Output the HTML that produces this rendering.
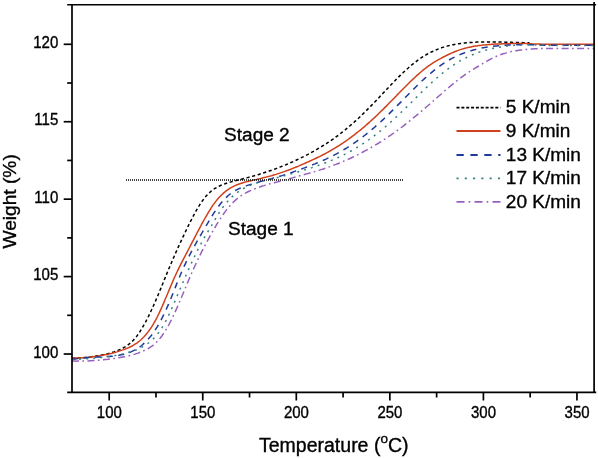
<!DOCTYPE html>
<html><head><meta charset="utf-8"><title>TG curves</title>
<style>html,body{margin:0;padding:0;background:#fff}svg{display:block}</style></head>
<body>
<svg width="598" height="458" viewBox="0 0 598 458">
<rect width="598" height="458" fill="#fff"/>
<path d="M72.0,358.3 L73.5,358.2 L75.0,358.1 L76.5,358.1 L78.0,358.0 L79.5,357.9 L81.0,357.7 L82.5,357.6 L84.0,357.5 L85.5,357.4 L87.0,357.2 L88.5,357.0 L90.0,356.9 L91.5,356.7 L93.0,356.5 L94.5,356.3 L96.0,356.1 L97.5,355.8 L99.0,355.6 L100.5,355.3 L102.0,355.0 L103.5,354.7 L105.0,354.4 L106.5,354.0 L108.0,353.6 L109.5,353.2 L111.0,352.8 L112.5,352.3 L114.0,351.9 L115.5,351.3 L117.0,350.8 L118.5,350.1 L120.0,349.5 L121.5,348.8 L123.0,348.0 L124.5,347.2 L126.0,346.3 L127.5,345.3 L129.0,344.2 L130.5,343.0 L132.0,341.7 L133.5,340.1 L135.0,338.5 L136.5,336.6 L138.0,334.5 L139.5,332.3 L141.0,329.9 L142.5,327.4 L144.0,324.8 L145.5,322.1 L147.0,319.2 L148.5,316.3 L150.0,313.2 L151.5,310.0 L153.0,306.7 L154.5,303.4 L156.0,299.9 L157.5,296.4 L159.0,292.8 L160.5,289.1 L162.0,285.5 L163.5,281.8 L165.0,278.1 L166.5,274.4 L168.0,270.8 L169.5,267.2 L171.0,263.7 L172.5,260.2 L174.0,256.7 L175.5,253.3 L177.0,250.0 L178.5,246.6 L180.0,243.4 L181.5,240.1 L183.0,236.9 L184.5,233.8 L186.0,230.6 L187.5,227.5 L189.0,224.4 L190.5,221.4 L192.0,218.5 L193.5,215.6 L195.0,212.8 L196.5,210.1 L198.0,207.6 L199.5,205.2 L201.0,202.9 L202.5,200.7 L204.0,198.7 L205.5,196.8 L207.0,195.1 L208.5,193.6 L210.0,192.2 L211.5,190.9 L213.0,189.8 L214.5,188.7 L216.0,187.8 L217.5,187.0 L219.0,186.2 L220.5,185.5 L222.0,184.9 L223.5,184.3 L225.0,183.8 L226.5,183.3 L228.0,182.8 L229.5,182.4 L231.0,181.9 L232.5,181.5 L234.0,181.1 L235.5,180.7 L237.0,180.3 L238.5,179.9 L240.0,179.5 L241.5,179.1 L243.0,178.7 L244.5,178.4 L246.0,178.0 L247.5,177.6 L249.0,177.2 L250.5,176.8 L252.0,176.4 L253.5,176.0 L255.0,175.5 L256.5,175.1 L258.0,174.7 L259.5,174.2 L261.0,173.7 L262.5,173.3 L264.0,172.8 L265.5,172.3 L267.0,171.8 L268.5,171.3 L270.0,170.8 L271.5,170.3 L273.0,169.7 L274.5,169.2 L276.0,168.6 L277.5,168.1 L279.0,167.5 L280.5,166.9 L282.0,166.3 L283.5,165.7 L285.0,165.1 L286.5,164.5 L288.0,163.8 L289.5,163.2 L291.0,162.5 L292.5,161.9 L294.0,161.2 L295.5,160.5 L297.0,159.8 L298.5,159.1 L300.0,158.3 L301.5,157.6 L303.0,156.9 L304.5,156.1 L306.0,155.3 L307.5,154.6 L309.0,153.8 L310.5,153.0 L312.0,152.1 L313.5,151.3 L315.0,150.5 L316.5,149.6 L318.0,148.7 L319.5,147.9 L321.0,147.0 L322.5,146.0 L324.0,145.1 L325.5,144.1 L327.0,143.2 L328.5,142.2 L330.0,141.1 L331.5,140.1 L333.0,139.1 L334.5,138.0 L336.0,136.9 L337.5,135.8 L339.0,134.7 L340.5,133.5 L342.0,132.3 L343.5,131.2 L345.0,130.0 L346.5,128.7 L348.0,127.5 L349.5,126.2 L351.0,124.9 L352.5,123.6 L354.0,122.3 L355.5,120.9 L357.0,119.5 L358.5,118.2 L360.0,116.8 L361.5,115.3 L363.0,113.9 L364.5,112.4 L366.0,110.9 L367.5,109.4 L369.0,107.9 L370.5,106.4 L372.0,104.9 L373.5,103.3 L375.0,101.8 L376.5,100.2 L378.0,98.6 L379.5,97.0 L381.0,95.4 L382.5,93.8 L384.0,92.2 L385.5,90.6 L387.0,89.0 L388.5,87.5 L390.0,85.9 L391.5,84.3 L393.0,82.7 L394.5,81.2 L396.0,79.6 L397.5,78.1 L399.0,76.6 L400.5,75.1 L402.0,73.7 L403.5,72.3 L405.0,70.9 L406.5,69.5 L408.0,68.2 L409.5,66.8 L411.0,65.6 L412.5,64.3 L414.0,63.1 L415.5,62.0 L417.0,60.8 L418.5,59.7 L420.0,58.7 L421.5,57.7 L423.0,56.7 L424.5,55.8 L426.0,54.9 L427.5,54.0 L429.0,53.2 L430.5,52.4 L432.0,51.7 L433.5,51.0 L435.0,50.3 L436.5,49.7 L438.0,49.1 L439.5,48.5 L441.0,48.0 L442.5,47.4 L444.0,47.0 L445.5,46.5 L447.0,46.1 L448.5,45.7 L450.0,45.4 L451.5,45.0 L453.0,44.7 L454.5,44.4 L456.0,44.1 L457.5,43.9 L459.0,43.7 L460.5,43.5 L462.0,43.3 L463.5,43.1 L465.0,42.9 L466.5,42.8 L468.0,42.7 L469.5,42.5 L471.0,42.4 L472.5,42.4 L474.0,42.3 L475.5,42.2 L477.0,42.1 L478.5,42.1 L480.0,42.0 L481.5,42.0 L483.0,42.0 L484.5,42.0 L486.0,41.9 L487.5,41.9 L489.0,41.9 L490.5,41.9 L492.0,41.9 L493.5,42.0 L495.0,42.0 L496.5,42.0 L498.0,42.0 L499.5,42.0 L501.0,42.1 L502.5,42.1 L504.0,42.1 L505.5,42.2 L507.0,42.2 L508.5,42.2 L510.0,42.3 L511.5,42.3 L513.0,42.4 L514.5,42.4 L516.0,42.4 L517.5,42.5 L519.0,42.5 L520.5,42.6 L522.0,42.6 L523.5,42.7 L525.0,42.7 L526.5,42.7 L528.0,42.7 L529.5,42.8" fill="none" stroke="#000000" stroke-width="1.5" stroke-dasharray="3.2 2.6"/>
<path d="M72.0,358.1 L73.5,358.1 L75.0,358.1 L76.5,358.1 L78.0,358.0 L79.5,358.0 L81.0,357.9 L82.5,357.8 L84.0,357.7 L85.5,357.6 L87.0,357.4 L88.5,357.3 L90.0,357.1 L91.5,357.0 L93.0,356.8 L94.5,356.6 L96.0,356.4 L97.5,356.1 L99.0,355.9 L100.5,355.6 L102.0,355.4 L103.5,355.1 L105.0,354.8 L106.5,354.5 L108.0,354.2 L109.5,353.8 L111.0,353.5 L112.5,353.1 L114.0,352.7 L115.5,352.3 L117.0,351.9 L118.5,351.4 L120.0,350.9 L121.5,350.4 L123.0,349.9 L124.5,349.4 L126.0,348.8 L127.5,348.1 L129.0,347.5 L130.5,346.8 L132.0,346.0 L133.5,345.2 L135.0,344.2 L136.5,343.3 L138.0,342.2 L139.5,341.0 L141.0,339.7 L142.5,338.3 L144.0,336.8 L145.5,335.1 L147.0,333.3 L148.5,331.4 L150.0,329.3 L151.5,327.1 L153.0,324.7 L154.5,322.1 L156.0,319.4 L157.5,316.5 L159.0,313.4 L160.5,310.1 L162.0,306.8 L163.5,303.4 L165.0,299.8 L166.5,296.3 L168.0,292.7 L169.5,289.1 L171.0,285.5 L172.5,282.0 L174.0,278.5 L175.5,275.2 L177.0,272.0 L178.5,268.9 L180.0,265.8 L181.5,262.9 L183.0,259.9 L184.5,257.1 L186.0,254.2 L187.5,251.4 L189.0,248.5 L190.5,245.6 L192.0,242.7 L193.5,239.8 L195.0,236.9 L196.5,234.0 L198.0,231.1 L199.5,228.3 L201.0,225.5 L202.5,222.7 L204.0,220.0 L205.5,217.4 L207.0,214.8 L208.5,212.2 L210.0,209.8 L211.5,207.4 L213.0,205.2 L214.5,203.1 L216.0,201.1 L217.5,199.3 L219.0,197.6 L220.5,196.0 L222.0,194.5 L223.5,193.1 L225.0,191.9 L226.5,190.7 L228.0,189.6 L229.5,188.6 L231.0,187.7 L232.5,186.9 L234.0,186.1 L235.5,185.4 L237.0,184.8 L238.5,184.2 L240.0,183.7 L241.5,183.2 L243.0,182.7 L244.5,182.3 L246.0,181.9 L247.5,181.5 L249.0,181.2 L250.5,180.8 L252.0,180.5 L253.5,180.1 L255.0,179.8 L256.5,179.5 L258.0,179.1 L259.5,178.8 L261.0,178.4 L262.5,178.0 L264.0,177.6 L265.5,177.3 L267.0,176.9 L268.5,176.5 L270.0,176.1 L271.5,175.7 L273.0,175.2 L274.5,174.8 L276.0,174.4 L277.5,173.9 L279.0,173.4 L280.5,172.9 L282.0,172.4 L283.5,171.9 L285.0,171.4 L286.5,170.8 L288.0,170.3 L289.5,169.7 L291.0,169.1 L292.5,168.5 L294.0,167.9 L295.5,167.3 L297.0,166.7 L298.5,166.1 L300.0,165.4 L301.5,164.8 L303.0,164.1 L304.5,163.5 L306.0,162.8 L307.5,162.1 L309.0,161.5 L310.5,160.8 L312.0,160.1 L313.5,159.4 L315.0,158.7 L316.5,158.0 L318.0,157.3 L319.5,156.6 L321.0,155.8 L322.5,155.0 L324.0,154.3 L325.5,153.5 L327.0,152.7 L328.5,151.8 L330.0,151.0 L331.5,150.1 L333.0,149.2 L334.5,148.3 L336.0,147.4 L337.5,146.5 L339.0,145.6 L340.5,144.6 L342.0,143.6 L343.5,142.6 L345.0,141.6 L346.5,140.6 L348.0,139.5 L349.5,138.4 L351.0,137.3 L352.5,136.2 L354.0,135.1 L355.5,133.9 L357.0,132.7 L358.5,131.5 L360.0,130.3 L361.5,129.1 L363.0,127.8 L364.5,126.6 L366.0,125.3 L367.5,123.9 L369.0,122.6 L370.5,121.3 L372.0,119.9 L373.5,118.5 L375.0,117.1 L376.5,115.7 L378.0,114.3 L379.5,112.8 L381.0,111.3 L382.5,109.9 L384.0,108.4 L385.5,106.9 L387.0,105.4 L388.5,103.8 L390.0,102.3 L391.5,100.8 L393.0,99.2 L394.5,97.7 L396.0,96.2 L397.5,94.6 L399.0,93.1 L400.5,91.5 L402.0,90.0 L403.5,88.5 L405.0,87.0 L406.5,85.5 L408.0,84.0 L409.5,82.5 L411.0,81.0 L412.5,79.6 L414.0,78.2 L415.5,76.8 L417.0,75.4 L418.5,74.1 L420.0,72.7 L421.5,71.5 L423.0,70.2 L424.5,69.0 L426.0,67.8 L427.5,66.7 L429.0,65.6 L430.5,64.6 L432.0,63.6 L433.5,62.6 L435.0,61.7 L436.5,60.8 L438.0,59.9 L439.5,59.1 L441.0,58.3 L442.5,57.5 L444.0,56.7 L445.5,56.0 L447.0,55.2 L448.5,54.5 L450.0,53.8 L451.5,53.1 L453.0,52.5 L454.5,51.8 L456.0,51.2 L457.5,50.6 L459.0,50.1 L460.5,49.6 L462.0,49.1 L463.5,48.7 L465.0,48.3 L466.5,47.9 L468.0,47.5 L469.5,47.2 L471.0,46.9 L472.5,46.6 L474.0,46.3 L475.5,46.1 L477.0,45.9 L478.5,45.6 L480.0,45.4 L481.5,45.3 L483.0,45.1 L484.5,44.9 L486.0,44.8 L487.5,44.7 L489.0,44.5 L490.5,44.4 L492.0,44.3 L493.5,44.2 L495.0,44.1 L496.5,44.1 L498.0,44.0 L499.5,43.9 L501.0,43.9 L502.5,43.8 L504.0,43.8 L505.5,43.7 L507.0,43.7 L508.5,43.7 L510.0,43.6 L511.5,43.6 L513.0,43.6 L514.5,43.6 L516.0,43.6 L517.5,43.6 L519.0,43.6 L520.5,43.5 L522.0,43.5 L523.5,43.5 L525.0,43.6 L526.5,43.6 L528.0,43.7 L529.5,43.7 L531.0,43.8 L532.5,43.9 L534.0,43.9 L535.5,44.0 L537.0,44.0 L538.5,44.1 L540.0,44.1 L541.5,44.2 L543.0,44.2 L544.5,44.3 L546.0,44.3 L547.5,44.3 L549.0,44.3 L550.5,44.3 L552.0,44.3 L553.5,44.3 L555.0,44.3 L556.5,44.3 L558.0,44.3 L559.5,44.3 L561.0,44.3 L562.5,44.3 L564.0,44.3 L565.5,44.3 L567.0,44.3 L568.5,44.3 L570.0,44.3 L571.5,44.3 L573.0,44.3 L574.5,44.3 L576.0,44.3 L577.5,44.3 L579.0,44.3 L580.5,44.3 L582.0,44.3 L583.5,44.3 L585.0,44.3 L586.5,44.3 L588.0,44.3 L589.5,44.3 L591.0,44.3 L592.5,44.3 L594.0,44.3" fill="none" stroke="#d0401a" stroke-width="1.5"/>
<path d="M72.0,359.5 L73.5,359.3 L75.0,359.0 L76.5,358.8 L78.0,358.6 L79.5,358.4 L81.0,358.2 L82.5,358.0 L84.0,357.9 L85.5,357.8 L87.0,357.7 L88.5,357.5 L90.0,357.5 L91.5,357.4 L93.0,357.3 L94.5,357.2 L96.0,357.1 L97.5,357.1 L99.0,357.0 L100.5,356.9 L102.0,356.9 L103.5,356.8 L105.0,356.7 L106.5,356.6 L108.0,356.5 L109.5,356.4 L111.0,356.3 L112.5,356.2 L114.0,356.0 L115.5,355.8 L117.0,355.6 L118.5,355.4 L120.0,355.1 L121.5,354.8 L123.0,354.5 L124.5,354.1 L126.0,353.7 L127.5,353.2 L129.0,352.7 L130.5,352.1 L132.0,351.4 L133.5,350.7 L135.0,349.9 L136.5,349.1 L138.0,348.1 L139.5,347.1 L141.0,346.0 L142.5,344.8 L144.0,343.4 L145.5,342.0 L147.0,340.5 L148.5,338.8 L150.0,337.1 L151.5,335.2 L153.0,333.1 L154.5,331.0 L156.0,328.7 L157.5,326.3 L159.0,323.7 L160.5,321.0 L162.0,318.2 L163.5,315.2 L165.0,312.1 L166.5,308.8 L168.0,305.4 L169.5,301.9 L171.0,298.2 L172.5,294.5 L174.0,290.7 L175.5,286.9 L177.0,283.1 L178.5,279.4 L180.0,275.7 L181.5,272.2 L183.0,268.8 L184.5,265.6 L186.0,262.4 L187.5,259.3 L189.0,256.3 L190.5,253.4 L192.0,250.6 L193.5,247.8 L195.0,245.1 L196.5,242.4 L198.0,239.8 L199.5,237.1 L201.0,234.6 L202.5,232.0 L204.0,229.4 L205.5,226.8 L207.0,224.3 L208.5,221.8 L210.0,219.3 L211.5,216.8 L213.0,214.4 L214.5,212.1 L216.0,209.9 L217.5,207.7 L219.0,205.7 L220.5,203.7 L222.0,201.9 L223.5,200.1 L225.0,198.5 L226.5,197.1 L228.0,195.7 L229.5,194.5 L231.0,193.3 L232.5,192.3 L234.0,191.3 L235.5,190.5 L237.0,189.7 L238.5,188.9 L240.0,188.3 L241.5,187.6 L243.0,187.0 L244.5,186.5 L246.0,185.9 L247.5,185.4 L249.0,184.9 L250.5,184.5 L252.0,184.0 L253.5,183.6 L255.0,183.1 L256.5,182.7 L258.0,182.3 L259.5,181.8 L261.0,181.4 L262.5,181.0 L264.0,180.6 L265.5,180.2 L267.0,179.8 L268.5,179.4 L270.0,179.0 L271.5,178.6 L273.0,178.1 L274.5,177.7 L276.0,177.3 L277.5,176.9 L279.0,176.5 L280.5,176.0 L282.0,175.6 L283.5,175.1 L285.0,174.6 L286.5,174.2 L288.0,173.7 L289.5,173.2 L291.0,172.7 L292.5,172.2 L294.0,171.6 L295.5,171.1 L297.0,170.6 L298.5,170.0 L300.0,169.5 L301.5,169.0 L303.0,168.4 L304.5,167.9 L306.0,167.3 L307.5,166.7 L309.0,166.2 L310.5,165.6 L312.0,165.0 L313.5,164.4 L315.0,163.9 L316.5,163.3 L318.0,162.6 L319.5,162.0 L321.0,161.4 L322.5,160.7 L324.0,160.0 L325.5,159.4 L327.0,158.7 L328.5,157.9 L330.0,157.2 L331.5,156.5 L333.0,155.7 L334.5,154.9 L336.0,154.1 L337.5,153.3 L339.0,152.5 L340.5,151.6 L342.0,150.8 L343.5,149.9 L345.0,149.0 L346.5,148.1 L348.0,147.1 L349.5,146.2 L351.0,145.2 L352.5,144.2 L354.0,143.2 L355.5,142.2 L357.0,141.1 L358.5,140.0 L360.0,138.9 L361.5,137.8 L363.0,136.7 L364.5,135.5 L366.0,134.3 L367.5,133.1 L369.0,131.9 L370.5,130.7 L372.0,129.4 L373.5,128.2 L375.0,126.9 L376.5,125.5 L378.0,124.2 L379.5,122.9 L381.0,121.5 L382.5,120.1 L384.0,118.7 L385.5,117.3 L387.0,115.8 L388.5,114.4 L390.0,112.9 L391.5,111.4 L393.0,109.9 L394.5,108.5 L396.0,106.9 L397.5,105.4 L399.0,103.9 L400.5,102.4 L402.0,100.9 L403.5,99.3 L405.0,97.8 L406.5,96.3 L408.0,94.7 L409.5,93.2 L411.0,91.7 L412.5,90.2 L414.0,88.7 L415.5,87.2 L417.0,85.7 L418.5,84.3 L420.0,82.8 L421.5,81.4 L423.0,80.0 L424.5,78.6 L426.0,77.3 L427.5,75.9 L429.0,74.6 L430.5,73.4 L432.0,72.1 L433.5,70.9 L435.0,69.7 L436.5,68.5 L438.0,67.4 L439.5,66.3 L441.0,65.2 L442.5,64.2 L444.0,63.2 L445.5,62.2 L447.0,61.3 L448.5,60.4 L450.0,59.5 L451.5,58.7 L453.0,57.9 L454.5,57.1 L456.0,56.4 L457.5,55.7 L459.0,55.0 L460.5,54.4 L462.0,53.8 L463.5,53.2 L465.0,52.6 L466.5,52.1 L468.0,51.6 L469.5,51.1 L471.0,50.7 L472.5,50.2 L474.0,49.8 L475.5,49.5 L477.0,49.1 L478.5,48.8 L480.0,48.4 L481.5,48.1 L483.0,47.8 L484.5,47.6 L486.0,47.3 L487.5,47.1 L489.0,46.9 L490.5,46.7 L492.0,46.5 L493.5,46.3 L495.0,46.1 L496.5,46.0 L498.0,45.8 L499.5,45.7 L501.0,45.6 L502.5,45.5 L504.0,45.3 L505.5,45.3 L507.0,45.2 L508.5,45.1 L510.0,45.0 L511.5,44.9 L513.0,44.9 L514.5,44.8 L516.0,44.8 L517.5,44.7 L519.0,44.7 L520.5,44.7 L522.0,44.6 L523.5,44.6 L525.0,44.6 L526.5,44.6 L528.0,44.7 L529.5,44.7 L531.0,44.8 L532.5,44.8 L534.0,44.9 L535.5,44.9 L537.0,45.0 L538.5,45.1 L540.0,45.1 L541.5,45.2 L543.0,45.2 L544.5,45.3 L546.0,45.3 L547.5,45.3 L549.0,45.3 L550.5,45.3 L552.0,45.3 L553.5,45.3 L555.0,45.3 L556.5,45.3 L558.0,45.3 L559.5,45.3 L561.0,45.3 L562.5,45.3 L564.0,45.3 L565.5,45.3 L567.0,45.3 L568.5,45.3 L570.0,45.3 L571.5,45.3 L573.0,45.3 L574.5,45.3 L576.0,45.3 L577.5,45.3 L579.0,45.3 L580.5,45.3 L582.0,45.3 L583.5,45.3 L585.0,45.3 L586.5,45.3 L588.0,45.3 L589.5,45.3 L591.0,45.3 L592.5,45.3 L594.0,45.3" fill="none" stroke="#1f3a9a" stroke-width="1.5" stroke-dasharray="6.2 5.4"/>
<path d="M72.0,359.4 L73.5,359.4 L75.0,359.4 L76.5,359.3 L78.0,359.3 L79.5,359.2 L81.0,359.1 L82.5,359.0 L84.0,358.9 L85.5,358.9 L87.0,358.8 L88.5,358.6 L90.0,358.5 L91.5,358.4 L93.0,358.3 L94.5,358.2 L96.0,358.0 L97.5,357.9 L99.0,357.7 L100.5,357.6 L102.0,357.4 L103.5,357.2 L105.0,357.0 L106.5,356.8 L108.0,356.6 L109.5,356.4 L111.0,356.2 L112.5,356.0 L114.0,355.7 L115.5,355.5 L117.0,355.2 L118.5,354.9 L120.0,354.6 L121.5,354.3 L123.0,353.9 L124.5,353.6 L126.0,353.2 L127.5,352.8 L129.0,352.3 L130.5,351.9 L132.0,351.4 L133.5,350.8 L135.0,350.3 L136.5,349.7 L138.0,349.0 L139.5,348.3 L141.0,347.6 L142.5,346.8 L144.0,345.9 L145.5,345.0 L147.0,344.0 L148.5,343.0 L150.0,341.8 L151.5,340.5 L153.0,339.1 L154.5,337.6 L156.0,335.9 L157.5,334.1 L159.0,332.2 L160.5,330.0 L162.0,327.7 L163.5,325.2 L165.0,322.5 L166.5,319.7 L168.0,316.6 L169.5,313.5 L171.0,310.2 L172.5,306.8 L174.0,303.3 L175.5,299.9 L177.0,296.3 L178.5,292.8 L180.0,289.3 L181.5,285.8 L183.0,282.3 L184.5,278.8 L186.0,275.4 L187.5,271.9 L189.0,268.5 L190.5,265.2 L192.0,261.9 L193.5,258.7 L195.0,255.5 L196.5,252.5 L198.0,249.5 L199.5,246.6 L201.0,243.8 L202.5,241.0 L204.0,238.3 L205.5,235.7 L207.0,233.2 L208.5,230.6 L210.0,228.1 L211.5,225.6 L213.0,223.0 L214.5,220.4 L216.0,217.9 L217.5,215.4 L219.0,213.0 L220.5,210.7 L222.0,208.5 L223.5,206.5 L225.0,204.5 L226.5,202.7 L228.0,201.0 L229.5,199.3 L231.0,197.8 L232.5,196.4 L234.0,195.1 L235.5,193.8 L237.0,192.7 L238.5,191.6 L240.0,190.6 L241.5,189.7 L243.0,188.8 L244.5,188.0 L246.0,187.2 L247.5,186.5 L249.0,185.8 L250.5,185.2 L252.0,184.6 L253.5,184.0 L255.0,183.5 L256.5,183.0 L258.0,182.5 L259.5,182.1 L261.0,181.6 L262.5,181.2 L264.0,180.8 L265.5,180.4 L267.0,180.0 L268.5,179.6 L270.0,179.3 L271.5,178.9 L273.0,178.6 L274.5,178.2 L276.0,177.9 L277.5,177.5 L279.0,177.1 L280.5,176.7 L282.0,176.4 L283.5,176.0 L285.0,175.6 L286.5,175.2 L288.0,174.8 L289.5,174.4 L291.0,173.9 L292.5,173.5 L294.0,173.1 L295.5,172.6 L297.0,172.2 L298.5,171.7 L300.0,171.3 L301.5,170.8 L303.0,170.4 L304.5,169.9 L306.0,169.5 L307.5,169.0 L309.0,168.5 L310.5,168.0 L312.0,167.6 L313.5,167.1 L315.0,166.6 L316.5,166.1 L318.0,165.6 L319.5,165.0 L321.0,164.5 L322.5,164.0 L324.0,163.4 L325.5,162.8 L327.0,162.2 L328.5,161.7 L330.0,161.0 L331.5,160.4 L333.0,159.8 L334.5,159.1 L336.0,158.5 L337.5,157.8 L339.0,157.1 L340.5,156.4 L342.0,155.7 L343.5,154.9 L345.0,154.2 L346.5,153.4 L348.0,152.6 L349.5,151.8 L351.0,151.0 L352.5,150.2 L354.0,149.3 L355.5,148.4 L357.0,147.5 L358.5,146.6 L360.0,145.7 L361.5,144.7 L363.0,143.7 L364.5,142.7 L366.0,141.7 L367.5,140.7 L369.0,139.6 L370.5,138.6 L372.0,137.5 L373.5,136.3 L375.0,135.2 L376.5,134.1 L378.0,132.9 L379.5,131.7 L381.0,130.5 L382.5,129.2 L384.0,128.0 L385.5,126.7 L387.0,125.4 L388.5,124.1 L390.0,122.7 L391.5,121.4 L393.0,120.0 L394.5,118.6 L396.0,117.2 L397.5,115.8 L399.0,114.4 L400.5,113.0 L402.0,111.5 L403.5,110.1 L405.0,108.6 L406.5,107.1 L408.0,105.6 L409.5,104.1 L411.0,102.7 L412.5,101.2 L414.0,99.7 L415.5,98.2 L417.0,96.7 L418.5,95.2 L420.0,93.7 L421.5,92.2 L423.0,90.8 L424.5,89.3 L426.0,87.9 L427.5,86.5 L429.0,85.0 L430.5,83.6 L432.0,82.3 L433.5,80.9 L435.0,79.6 L436.5,78.2 L438.0,76.9 L439.5,75.7 L441.0,74.4 L442.5,73.2 L444.0,72.0 L445.5,70.8 L447.0,69.7 L448.5,68.6 L450.0,67.5 L451.5,66.4 L453.0,65.4 L454.5,64.4 L456.0,63.4 L457.5,62.5 L459.0,61.6 L460.5,60.7 L462.0,59.9 L463.5,59.1 L465.0,58.3 L466.5,57.5 L468.0,56.8 L469.5,56.1 L471.0,55.4 L472.5,54.8 L474.0,54.2 L475.5,53.6 L477.0,53.0 L478.5,52.5 L480.0,51.9 L481.5,51.5 L483.0,51.0 L484.5,50.5 L486.0,50.1 L487.5,49.7 L489.0,49.3 L490.5,49.0 L492.0,48.6 L493.5,48.3 L495.0,48.0 L496.5,47.7 L498.0,47.4 L499.5,47.2 L501.0,46.9 L502.5,46.7 L504.0,46.5 L505.5,46.3 L507.0,46.1 L508.5,45.9 L510.0,45.7 L511.5,45.6 L513.0,45.5 L514.5,45.3 L516.0,45.2 L517.5,45.1 L519.0,45.0 L520.5,44.9 L522.0,44.8 L523.5,44.7 L525.0,44.7 L526.5,44.7 L528.0,44.7 L529.5,44.7 L531.0,44.7 L532.5,44.8 L534.0,44.8 L535.5,44.9 L537.0,45.0 L538.5,45.0 L540.0,45.1 L541.5,45.2 L543.0,45.3 L544.5,45.4 L546.0,45.4 L547.5,45.4 L549.0,45.4 L550.5,45.4 L552.0,45.4 L553.5,45.4 L555.0,45.4 L556.5,45.4 L558.0,45.4 L559.5,45.4 L561.0,45.4 L562.5,45.4 L564.0,45.4 L565.5,45.4 L567.0,45.4 L568.5,45.4 L570.0,45.4 L571.5,45.4 L573.0,45.4 L574.5,45.4 L576.0,45.4 L577.5,45.4 L579.0,45.4 L580.5,45.4 L582.0,45.4 L583.5,45.4 L585.0,45.4 L586.5,45.4 L588.0,45.4 L589.5,45.4 L591.0,45.4 L592.5,45.4 L594.0,45.4" fill="none" stroke="#358282" stroke-width="1.5" stroke-dasharray="2.0 5.1"/>
<path d="M72.0,361.1 L73.5,361.1 L75.0,361.1 L76.5,361.2 L78.0,361.1 L79.5,361.1 L81.0,361.1 L82.5,361.1 L84.0,361.0 L85.5,361.0 L87.0,360.9 L88.5,360.9 L90.0,360.8 L91.5,360.7 L93.0,360.6 L94.5,360.5 L96.0,360.4 L97.5,360.3 L99.0,360.2 L100.5,360.0 L102.0,359.9 L103.5,359.8 L105.0,359.6 L106.5,359.4 L108.0,359.3 L109.5,359.1 L111.0,358.9 L112.5,358.7 L114.0,358.5 L115.5,358.3 L117.0,358.1 L118.5,357.8 L120.0,357.6 L121.5,357.3 L123.0,357.0 L124.5,356.7 L126.0,356.4 L127.5,356.1 L129.0,355.7 L130.5,355.4 L132.0,355.0 L133.5,354.5 L135.0,354.1 L136.5,353.6 L138.0,353.1 L139.5,352.5 L141.0,351.9 L142.5,351.3 L144.0,350.6 L145.5,349.9 L147.0,349.2 L148.5,348.3 L150.0,347.4 L151.5,346.4 L153.0,345.3 L154.5,344.1 L156.0,342.7 L157.5,341.2 L159.0,339.6 L160.5,337.8 L162.0,335.8 L163.5,333.7 L165.0,331.4 L166.5,328.9 L168.0,326.3 L169.5,323.5 L171.0,320.6 L172.5,317.6 L174.0,314.4 L175.5,311.1 L177.0,307.8 L178.5,304.3 L180.0,300.8 L181.5,297.3 L183.0,293.7 L184.5,290.1 L186.0,286.5 L187.5,282.9 L189.0,279.3 L190.5,275.8 L192.0,272.3 L193.5,269.0 L195.0,265.7 L196.5,262.4 L198.0,259.3 L199.5,256.2 L201.0,253.1 L202.5,250.1 L204.0,247.2 L205.5,244.4 L207.0,241.6 L208.5,238.8 L210.0,236.1 L211.5,233.5 L213.0,230.8 L214.5,228.3 L216.0,225.7 L217.5,223.2 L219.0,220.8 L220.5,218.5 L222.0,216.2 L223.5,214.0 L225.0,211.9 L226.5,209.9 L228.0,208.0 L229.5,206.2 L231.0,204.5 L232.5,202.9 L234.0,201.5 L235.5,200.1 L237.0,198.8 L238.5,197.6 L240.0,196.5 L241.5,195.5 L243.0,194.5 L244.5,193.6 L246.0,192.8 L247.5,192.0 L249.0,191.3 L250.5,190.6 L252.0,189.9 L253.5,189.3 L255.0,188.7 L256.5,188.1 L258.0,187.6 L259.5,187.0 L261.0,186.5 L262.5,186.0 L264.0,185.6 L265.5,185.1 L267.0,184.7 L268.5,184.2 L270.0,183.8 L271.5,183.4 L273.0,183.1 L274.5,182.7 L276.0,182.3 L277.5,181.9 L279.0,181.5 L280.5,181.1 L282.0,180.7 L283.5,180.3 L285.0,179.9 L286.5,179.5 L288.0,179.1 L289.5,178.7 L291.0,178.3 L292.5,177.9 L294.0,177.4 L295.5,177.0 L297.0,176.6 L298.5,176.2 L300.0,175.7 L301.5,175.3 L303.0,174.9 L304.5,174.5 L306.0,174.0 L307.5,173.6 L309.0,173.2 L310.5,172.8 L312.0,172.3 L313.5,171.9 L315.0,171.5 L316.5,171.0 L318.0,170.6 L319.5,170.1 L321.0,169.6 L322.5,169.2 L324.0,168.7 L325.5,168.2 L327.0,167.7 L328.5,167.1 L330.0,166.6 L331.5,166.1 L333.0,165.5 L334.5,164.9 L336.0,164.4 L337.5,163.8 L339.0,163.2 L340.5,162.6 L342.0,162.0 L343.5,161.3 L345.0,160.7 L346.5,160.0 L348.0,159.4 L349.5,158.7 L351.0,158.0 L352.5,157.3 L354.0,156.6 L355.5,155.9 L357.0,155.1 L358.5,154.4 L360.0,153.6 L361.5,152.8 L363.0,152.0 L364.5,151.2 L366.0,150.4 L367.5,149.6 L369.0,148.8 L370.5,147.9 L372.0,147.0 L373.5,146.2 L375.0,145.3 L376.5,144.4 L378.0,143.5 L379.5,142.5 L381.0,141.6 L382.5,140.6 L384.0,139.7 L385.5,138.7 L387.0,137.7 L388.5,136.7 L390.0,135.6 L391.5,134.6 L393.0,133.5 L394.5,132.5 L396.0,131.4 L397.5,130.3 L399.0,129.2 L400.5,128.1 L402.0,127.0 L403.5,125.8 L405.0,124.6 L406.5,123.5 L408.0,122.3 L409.5,121.1 L411.0,119.9 L412.5,118.7 L414.0,117.4 L415.5,116.2 L417.0,114.9 L418.5,113.7 L420.0,112.4 L421.5,111.1 L423.0,109.9 L424.5,108.6 L426.0,107.3 L427.5,106.0 L429.0,104.7 L430.5,103.4 L432.0,102.0 L433.5,100.7 L435.0,99.4 L436.5,98.1 L438.0,96.8 L439.5,95.5 L441.0,94.2 L442.5,92.8 L444.0,91.5 L445.5,90.2 L447.0,89.0 L448.5,87.7 L450.0,86.4 L451.5,85.2 L453.0,83.9 L454.5,82.7 L456.0,81.5 L457.5,80.3 L459.0,79.2 L460.5,78.0 L462.0,76.9 L463.5,75.8 L465.0,74.7 L466.5,73.7 L468.0,72.7 L469.5,71.7 L471.0,70.7 L472.5,69.8 L474.0,68.8 L475.5,67.9 L477.0,67.0 L478.5,66.1 L480.0,65.2 L481.5,64.3 L483.0,63.4 L484.5,62.6 L486.0,61.7 L487.5,60.8 L489.0,60.0 L490.5,59.2 L492.0,58.4 L493.5,57.7 L495.0,57.0 L496.5,56.3 L498.0,55.7 L499.5,55.1 L501.0,54.5 L502.5,54.0 L504.0,53.5 L505.5,53.1 L507.0,52.6 L508.5,52.3 L510.0,51.9 L511.5,51.6 L513.0,51.3 L514.5,51.0 L516.0,50.7 L517.5,50.5 L519.0,50.3 L520.5,50.1 L522.0,49.9 L523.5,49.8 L525.0,49.6 L526.5,49.4 L528.0,49.2 L529.5,49.1 L531.0,49.0 L532.5,48.9 L534.0,48.8 L535.5,48.8 L537.0,48.7 L538.5,48.7 L540.0,48.6 L541.5,48.6 L543.0,48.6 L544.5,48.6 L546.0,48.6 L547.5,48.6 L549.0,48.6 L550.5,48.6 L552.0,48.6 L553.5,48.6 L555.0,48.6 L556.5,48.6 L558.0,48.6 L559.5,48.6 L561.0,48.6 L562.5,48.6 L564.0,48.6 L565.5,48.6 L567.0,48.6 L568.5,48.6 L570.0,48.6 L571.5,48.6 L573.0,48.6 L574.5,48.6 L576.0,48.6 L577.5,48.6 L579.0,48.6 L580.5,48.6 L582.0,48.6 L583.5,48.6 L585.0,48.6 L586.5,48.6 L588.0,48.6 L589.5,48.6 L591.0,48.6 L592.5,48.6 L594.0,48.6" fill="none" stroke="#9860be" stroke-width="1.5" stroke-dasharray="7 3.4 1.7 3.4"/>
<line x1="126" y1="180" x2="403.5" y2="180" stroke="#000" stroke-width="1.5" stroke-dasharray="1 1"/>
<g stroke="#000" stroke-width="1.7" fill="none">
<path d="M72,4.05 V393.1 M594.1,1.9500000000000002 V393.1 M67.2,392.3 H596.2"/>
<path d="M67.2,4.75 H596.1" stroke-width="1.5"/>
<path d="M63.7,44.30 H72"/>
<path d="M67.2,83.02 H72"/>
<path d="M63.7,121.73 H72"/>
<path d="M67.2,160.44 H72"/>
<path d="M63.7,199.16 H72"/>
<path d="M67.2,237.88 H72"/>
<path d="M63.7,276.59 H72"/>
<path d="M67.2,315.31 H72"/>
<path d="M63.7,354.02 H72"/>
<path d="M109.20,392.3 V400.5"/>
<path d="M155.97,392.3 V397.5"/>
<path d="M202.75,392.3 V400.5"/>
<path d="M249.53,392.3 V397.5"/>
<path d="M296.30,392.3 V400.5"/>
<path d="M343.07,392.3 V397.5"/>
<path d="M389.85,392.3 V400.5"/>
<path d="M436.62,392.3 V397.5"/>
<path d="M483.40,392.3 V400.5"/>
<path d="M530.17,392.3 V397.5"/>
<path d="M576.95,392.3 V400.5"/>
</g>
<g font-family="'Liberation Sans', Arial, sans-serif" fill="#000" stroke="#000" stroke-width="0.35">
<text transform="translate(58.3,48.0) scale(0.945,1)" font-size="15.9" text-anchor="end">120</text>
<text transform="translate(58.3,125.4) scale(0.945,1)" font-size="15.9" text-anchor="end">115</text>
<text transform="translate(58.3,202.9) scale(0.945,1)" font-size="15.9" text-anchor="end">110</text>
<text transform="translate(58.3,280.3) scale(0.945,1)" font-size="15.9" text-anchor="end">105</text>
<text transform="translate(58.3,357.7) scale(0.945,1)" font-size="15.9" text-anchor="end">100</text>
<text transform="translate(109.3,417.7) scale(0.96,1)" font-size="15.6" text-anchor="middle">100</text>
<text transform="translate(202.8,417.7) scale(0.96,1)" font-size="15.6" text-anchor="middle">150</text>
<text transform="translate(296.4,417.7) scale(0.96,1)" font-size="15.6" text-anchor="middle">200</text>
<text transform="translate(389.9,417.7) scale(0.96,1)" font-size="15.6" text-anchor="middle">250</text>
<text transform="translate(483.5,417.7) scale(0.96,1)" font-size="15.6" text-anchor="middle">300</text>
<text transform="translate(577.1,417.7) scale(0.96,1)" font-size="15.6" text-anchor="middle">350</text>
<text transform="translate(259.0,452.1) scale(1.0,1)" font-size="19.5">Temperature (<tspan dy="-9.5" font-size="13.5">o</tspan><tspan dy="9.5">C)</tspan></text>
<text transform="translate(16.0,248.6) rotate(-90) scale(1.02,1)" font-size="18.8">Weight (%)</text>
<text transform="translate(224.1,141.4) scale(1.013,1)" font-size="18.8">Stage 2</text>
<text transform="translate(228.0,234.8) scale(1.013,1)" font-size="18.8">Stage 1</text>
<line x1="456.5" y1="107.6" x2="500.5" y2="107.6" stroke="#000000" stroke-width="1.8" stroke-dasharray="3 1.85"/>
<text transform="translate(505.8,113.3) scale(1.013,1)" font-size="18.8">5 K/min</text>
<line x1="456.5" y1="131.0" x2="500.5" y2="131.0" stroke="#d0401a" stroke-width="1.8"/>
<text transform="translate(505.8,136.7) scale(1.013,1)" font-size="18.8">9 K/min</text>
<line x1="456.5" y1="155.0" x2="500.5" y2="155.0" stroke="#1f3a9a" stroke-width="1.8" stroke-dasharray="7.3 6.6"/>
<text transform="translate(505.8,160.7) scale(1.013,1)" font-size="18.8">13 K/min</text>
<line x1="456.5" y1="178.3" x2="500.5" y2="178.3" stroke="#358282" stroke-width="1.8" stroke-dasharray="2.1 6.18"/>
<text transform="translate(505.8,184.0) scale(1.013,1)" font-size="18.8">17 K/min</text>
<line x1="456.5" y1="201.8" x2="500.5" y2="201.8" stroke="#9860be" stroke-width="1.8" stroke-dasharray="8 4.2 1.6 4.2"/>
<text transform="translate(505.8,207.5) scale(1.013,1)" font-size="18.8">20 K/min</text>
</g>
</svg>
</body></html>
